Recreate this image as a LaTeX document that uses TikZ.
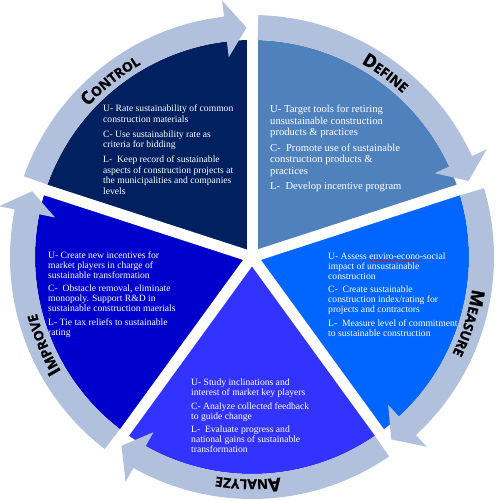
\documentclass[tikz,border=0pt]{standalone}
\usepackage{fontspec}
\setmainfont{Liberation Serif}
\newfontfamily\labelfont[BoldFeatures={FakeBold=1.2}]{Open Sans}
\usetikzlibrary{decorations.text, decorations.pathmorphing}

\definecolor{ringblue}{HTML}{B1C1DD}
\definecolor{controlblue}{HTML}{002060}
\definecolor{defineblue}{HTML}{4F81BD}
\definecolor{measureblue}{HTML}{0066FF}
\definecolor{analyzeblue}{HTML}{3333FF}
\definecolor{improveblue}{HTML}{0000CC}

\newcommand{\lblbig}{\labelfont\bfseries\fontsize{18}{20}\selectfont}
\newcommand{\lblsmall}{\labelfont\bfseries\fontsize{13.5}{15}\selectfont}

\begin{document}
\begin{tikzpicture}[x=1pt, y=1pt]
        \tikzstyle{phasetext} = [anchor=north west, inner sep=0pt, align=left, text=white,
            font=\fontsize{9.6}{10}\selectfont]
        \tikzstyle{steplabel} = [decorate, decoration={text along path, text align=center}]
        \tikzstyle{gap} = [white, line width=11pt]

        \fill[white] (0,0) rectangle (500,501);
        \useasboundingbox (0,0) rectangle (500,501);

        % pie sectors
        \begin{scope}[shift={(252,244)}]
            \fill[controlblue] (0,0) -- (162:217) arc[start angle=162, end angle=90, radius=217] -- cycle;
            \fill[defineblue] (0,0) -- (90:217) arc[start angle=90, end angle=18, radius=217] -- cycle;
            \fill[measureblue] (0,0) -- (18:217) arc[start angle=18, end angle=-54, radius=217] -- cycle;
            \fill[analyzeblue] (0,0) -- (-54:217) arc[start angle=-54, end angle=-126, radius=217] -- cycle;
            \fill[improveblue] (0,0) -- (-126:217) arc[start angle=-126, end angle=-198, radius=217] -- cycle;
            \foreach \s in {90,18,-54,-126,162}
                \draw[gap] (0,0) -- (\s:220);
        \end{scope}

        % texts
        \node[phasetext, font=\fontsize{9.6}{10.5}\selectfont] (control) at (103,396)
            {U- Rate sustainability of common\\ construction materials\\[4.5pt]
             C- Use sustainability rate as\\ criteria for bidding\\[4.5pt]
             L-\ \ Keep record of sustainable\\ aspects of construction projects at\\
             the municipalities and companies\\ levels};
        \node[phasetext, font=\fontsize{10.6}{11.5}\selectfont] (define) at (270,396)
            {U- Target tools for retiring\\ unsustainable construction\\ products \& practices\\[4pt]
             C-\ \ Promote use of sustainable\\ construction products \&\\ practices\\[4pt]
             L-\ \ Develop incentive program};
        \node[phasetext] (measure) at (328,248.5)
            {U- Assess enviro-econo-social\\ impact of unsustainable\\ construction\\[3.5pt]
             C-\ \ Create sustainable\\ construction index/rating for\\ projects and contractors\\[3.5pt]
             L-\ \ Measure level of commitment\\ to sustainable construction};
        \node[phasetext] (analyze) at (191,122)
            {U- Study inclinations and\\ interest of market key players\\[3.5pt]
             C- Analyze collected feedback\\ to guide change\\[3.5pt]
             L-\ \ Evaluate progress and\\ national gains of sustainable\\ transformation};
        \node[phasetext] (improve) at (48,249.5)
            {U- Create new incentives for\\ market players in charge of\\ sustainable transformation\\[3.5pt]
             C-\ \ Obstacle removal, eliminate\\ monopoly. Support R\&D in\\ sustainable construction maerials\\[3.5pt]
             L- Tie tax reliefs to sustainable\\ rating};
        \draw[red, line width=0.5pt, decorate, decoration={snake, amplitude=0.5pt, segment length=2pt}]
            (369,240.5) -- (420,240.5);

        % ring arrows and labels
        \begin{scope}[shift={(252,244)}]
            \foreach \s in {90,18,-54,-126,-198}
                \fill[ringblue] ({\s+70.5}:242) arc[start angle={\s+70.5}, end angle={\s+6.65}, radius=242]
                    -- ({\s+6.65}:258) -- ({\s+1.35}:229.5) -- ({\s+6.65}:201) -- ({\s+6.65}:217)
                    arc[start angle={\s+6.65}, end angle={\s+70.5}, radius=217] -- cycle;

            \path[steplabel, decoration={text={|\lblbig|C|\lblsmall|ONTROL}}]
                (168.7:222.5) arc[start angle=168.7, end angle=88.7, radius=222.5];
            \path[steplabel, decoration={text={|\lblbig|D|\lblsmall|EFINE}}]
                (94:222.5) arc[start angle=94, end angle=14, radius=222.5];
            \path[steplabel, decoration={text={|\lblbig|M|\lblsmall|EASURE}}]
                (23:222.5) arc[start angle=23, end angle=-57, radius=222.5];
            \path[steplabel, decoration={text={|\lblbig|A|\lblsmall|NALYZE}}]
                (-51:222.5) arc[start angle=-51, end angle=-131, radius=222.5];
            \path[steplabel, decoration={text={|\lblbig|I|\lblsmall|MPROVE}}]
                (242.8:222.5) arc[start angle=242.8, end angle=162.8, radius=222.5];
        \end{scope}
    \end{tikzpicture}
\end{document}
